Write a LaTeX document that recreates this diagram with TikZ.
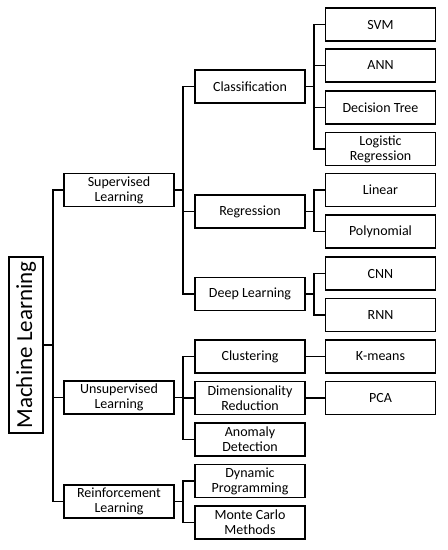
\documentclass[tikz,border=0pt]{standalone}
\usepackage{fontspec}
\setmainfont{Carlito}
\begin{document}
\begin{tikzpicture}[x=1pt,y=1pt,
  box/.style={draw=black,line width=1.9pt,fill=white,minimum width=110pt,minimum height=33pt,inner sep=1pt,align=center,font=\fontsize{14}{15}\selectfont},
  rootbox/.style={draw=black,line width=1.9pt,minimum width=176pt,minimum height=34pt,inner sep=0pt,rotate=90,font=\fontsize{23}{25}\selectfont},
  link/.style={line width=1.9pt}]
\useasboundingbox (0,0) rectangle (448,-550);
% root
\node[rootbox] (root) at (26,-345) {Machine Learning};
% level 1
\node[box] (sup) at (119,-190) {Supervised\\Learning};
\node[box] (uns) at (119,-397.5) {Unsupervised\\Learning};
\node[box] (rei) at (119,-501.5) {Reinforcement\\Learning};
% level 2
\node[box] (cls) at (250,-86.5) {Classification};
\node[box] (reg) at (250,-211.5) {Regression};
\node[box] (dl) at (250,-294) {Deep Learning};
\node[box] (clu) at (250,-356.5) {Clustering};
\node[box] (dr) at (250,-398) {Dimensionality\\Reduction};
\node[box] (ad) at (250,-439.5) {Anomaly\\Detection};
\node[box] (dp) at (250,-481) {Dynamic\\Programming};
\node[box] (mc) at (250,-522.5) {Monte Carlo\\Methods};
% level 3
\node[box] (svm) at (380.5,-24.5) {SVM};
\node[box] (ann) at (380.5,-65.5) {ANN};
\node[box] (dt) at (380.5,-107.5) {Decision Tree};
\node[box] (lr) at (380.5,-149) {Logistic\\Regression};
\node[box] (lin) at (380.5,-190) {Linear};
\node[box] (poly) at (380.5,-231.5) {Polynomial};
\node[box] (cnn) at (380.5,-273.5) {CNN};
\node[box] (rnn) at (380.5,-315) {RNN};
\node[box] (km) at (380.5,-356.5) {K-means};
\node[box] (pca) at (380.5,-398) {PCA};
% trunk
\draw[link] (sup.west) -- ++(-10,0) coordinate (t) |- (rei.west);
\draw[link] (t) |- (uns.west);
\draw[link] (root.south) -- (root.south -| t);
% supervised
\draw[link] (cls.west) -- ++(-11,0) coordinate (b1) |- (dl.west);
\draw[link] (b1) |- (reg.west);
\draw[link] (sup.east) -- (sup.east -| b1);
% unsupervised
\draw[link] (clu.west) -- ++(-11,0) coordinate (b2) |- (ad.west);
\draw[link] (b2) |- (dr.west);
\draw[link] (uns.east) -- (uns.east -| b2);
% reinforcement
\draw[link] (dp.west) -- ++(-11,0) coordinate (b3) |- (mc.west);
\draw[link] (rei.east) -- (rei.east -| b3);
% classification
\draw[link] (svm.west) -- ++(-11,0) coordinate (c1) |- (lr.west);
\draw[link] (c1) |- (ann.west);
\draw[link] (c1) |- (dt.west);
\draw[link] (cls.east) -- (cls.east -| c1);
% regression
\draw[link] (lin.west) -- ++(-11,0) coordinate (c2) |- (poly.west);
\draw[link] (reg.east) -- (reg.east -| c2);
% deep learning
\draw[link] (cnn.west) -- ++(-11,0) coordinate (c3) |- (rnn.west);
\draw[link] (dl.east) -- (dl.east -| c3);
% direct
\draw[link] (clu.east) -- (km.west);
\draw[link] (dr.east) -- (pca.west);
\end{tikzpicture}
\end{document}
